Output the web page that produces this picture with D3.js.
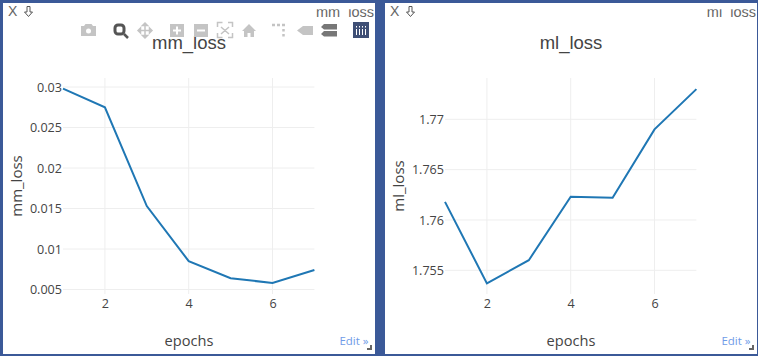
<!DOCTYPE html>
<html>
<head>
<meta charset="utf-8">
<script src="https://cdn.jsdelivr.net/npm/d3@7"></script>
<style>
  html, body { margin: 0; padding: 0; background: #fff; overflow: hidden; }
  text { font-family: "Open Sans", verdana, arial, sans-serif; fill: #444; }
  .gtitle, .cap { font-family: "Liberation Sans", arial, sans-serif; }
  .axis .domain, .axis .tick line { display: none; }
  .grid line { stroke: #eee; stroke-width: 1; }
</style>
</head>
<body>
<div id="chart"></div>
<script>
// Data
const epochs = [1, 2, 3, 4, 5, 6, 7];
const mmLoss = [0.0298, 0.0275, 0.0153, 0.0085, 0.0064, 0.0058, 0.0074];
const mlLoss = [1.7618, 1.7537, 1.756, 1.7623, 1.7622, 1.769, 1.773];
const mmTicks = [0.005, 0.01, 0.015, 0.02, 0.025, 0.03];
const mlTicks = [1.755, 1.76, 1.765, 1.77];
const xTicks = [2, 4, 6];

const frame = '#3b5998';

const svg = d3
  .select('#chart')
  .append('svg')
  .attr('width', 758)
  .attr('height', 356)
  .style('display', 'block');

svg.append('rect').attr('width', 758).attr('height', 356).attr('fill', frame);

// one card per metric
function drawPanel(p) {
  const g = svg.append('g').attr('transform', `translate(${p.left}, 3)`);

  g.append('rect').attr('width', p.w).attr('height', 351).attr('fill', '#fff');

  const x = d3.scaleLinear([1, 7], [p.x0, p.x0 + 251.4]);
  const y = d3.scaleLinear(p.yDomain, p.yRange);
  const top = 75;
  const bottom = 291;

  // grid
  const grid = g.append('g').attr('class', 'grid');
  grid
    .selectAll('.gx')
    .data(xTicks)
    .join('line')
    .attr('x1', (d) => x(d))
    .attr('x2', (d) => x(d))
    .attr('y1', top)
    .attr('y2', bottom);
  grid
    .selectAll('.gy')
    .data(p.ticks)
    .join('line')
    .attr('x1', x(1))
    .attr('x2', x(7))
    .attr('y1', (d) => y(d))
    .attr('y2', (d) => y(d));

  // axes
  g.append('g')
    .attr('class', 'axis')
    .attr('transform', `translate(0, ${bottom - 1})`)
    .call(d3.axisBottom(x).tickValues(xTicks).tickFormat(d3.format('d')).tickSize(0).tickPadding(6))
    .selectAll('text')
    .attr('font-size', 12.6)
    .style('font-family', '"Open Sans", verdana, arial, sans-serif');
  g.append('g')
    .attr('class', 'axis')
    .attr('transform', `translate(${x(1)}, 0)`)
    .call(d3.axisLeft(y).tickValues(p.ticks).tickFormat(d3.format('~g')).tickSize(0).tickPadding(1))
    .selectAll('text')
    .attr('font-size', 12.6)
    .style('font-family', '"Open Sans", verdana, arial, sans-serif');

  // loss line
  const line = d3
    .line()
    .x((d, i) => x(epochs[i]))
    .y((d) => y(d));
  g.append('path')
    .datum(p.values)
    .attr('d', line)
    .attr('fill', 'none')
    .attr('stroke', '#1f77b4')
    .attr('stroke-width', 2);

  // titles
  g.append('text')
    .attr('class', 'gtitle')
    .attr('x', 186)
    .attr('y', 45.5)
    .attr('text-anchor', 'middle')
    .attr('font-size', 18.5)
    .text(p.name);
  g.append('text')
    .attr('x', 186)
    .attr('y', 343)
    .attr('text-anchor', 'middle')
    .attr('font-size', 14.6)
    .text('epochs');
  g.append('text')
    .attr('transform', 'translate(19, 183) rotate(-90)')
    .attr('text-anchor', 'middle')
    .attr('font-size', 15)
    .text(p.name);

  // card chrome
  g.append('text').attr('class', 'cap').attr('x', 5).attr('y', 13).attr('font-size', 14).style('fill', '#666').text('X');
  g.append('path')
    .attr('d', 'M24 3.500h3v5.500h2.500l-4 4.500-4-4.500h2.500z')
    .attr('fill', 'none')
    .attr('stroke', '#555');

  // the corner label is cut off by its box, so its underscore doesn't show
  g.append('clipPath')
    .attr('id', `cap-${p.name}`)
    .append('rect')
    .attr('x', p.w - 90)
    .attr('y', 6.3)
    .attr('width', 90)
    .attr('height', 8.2);
  g.append('text')
    .attr('class', 'cap')
    .attr('x', p.w - 1)
    .attr('y', 14.3)
    .attr('text-anchor', 'end')
    .attr('font-size', 14.5)
    .attr('clip-path', `url(#cap-${p.name})`)
    .style('fill', '#666')
    .text(p.name);

  g.append('text')
    .attr('x', 365.5)
    .attr('y', 342)
    .attr('text-anchor', 'end')
    .attr('font-size', 11.5)
    .style('fill', '#6f9be8')
    .text('Edit »');
  g.append('path')
    .attr('d', `M${p.cornerX} 347v-5h-2v3h-3v2z`)
    .attr('fill', '#666');
}

drawPanel({
  name: 'mm_loss',
  left: 3,
  w: 372,
  x0: 60,
  values: mmLoss,
  ticks: mmTicks,
  yDomain: [0.005, 0.03],
  yRange: [286.5, 84],
  cornerX: 369
});
drawPanel({
  name: 'ml_loss',
  left: 385,
  w: 372,
  x0: 60,
  values: mlLoss,
  ticks: mlTicks,
  yDomain: [1.755, 1.77],
  yRange: [267.3, 116.3],
  cornerX: 369
});

// modebar on the first card
const bar = svg.append('g');
const grey = '#c4c4c4';
// camera
bar.append('path').attr('d', 'M81 26h3l1.500-2h6l1.500 2h3v10h-15z').attr('fill', grey);
bar.append('circle').attr('cx', 88.500).attr('cy', 31).attr('r', 2.500).attr('fill', '#fff');
// zoom, active
bar.append('rect').attr('x', 115).attr('y', 25).attr('width', 9).attr('height', 9).attr('rx', 3).attr('fill', 'none').attr('stroke', '#555').attr('stroke-width', 3);
bar.append('line').attr('x1', 124).attr('y1', 34).attr('x2', 128).attr('y2', 38).attr('stroke', '#555').attr('stroke-width', 2.500);
// pan
bar.append('path').attr('d', 'M145 24v13M138.500 30.500h13M145 23l-2.500 2.500h5zM145 38l-2.500-2.500h5zM138 30.500l2.500-2.500v5zM152 30.500l-2.500-2.500v5z').attr('stroke', grey).attr('fill', 'none').attr('stroke-width', 1.500);
// zoom in / out
bar.append('rect').attr('x', 170).attr('y', 24).attr('width', 14).attr('height', 13).attr('fill', grey);
bar.append('path').attr('d', 'M177 26.500v8M173 30.500h8').attr('stroke', '#fff').attr('stroke-width', 2);
bar.append('rect').attr('x', 194).attr('y', 24).attr('width', 14).attr('height', 13).attr('fill', grey);
bar.append('path').attr('d', 'M197 30.500h8').attr('stroke', '#fff').attr('stroke-width', 2);
// autoscale
bar.append('path').attr('d', 'M217.500 27v-4.500h5M228 22.500h4.500v4.500M232.500 33v4.500h-4.500M222.500 37.500h-5v-4.500M221 27l8 7M229 27l-8 7').attr('stroke', grey).attr('fill', 'none').attr('stroke-width', 1.500);
// home
bar.append('path').attr('d', 'M242 31l7-7 7 7h-2v6h-3.500v-4h-3v4h-3.500v-6z').attr('fill', grey);
// spikelines
bar.append('path').attr('d', 'M272 25h3M277 25h3M282 25h3M283.500 29v2.500M283.500 34v2.500').attr('stroke', grey).attr('fill', 'none').attr('stroke-width', 2.500);
// hover closest
bar.append('path').attr('d', 'M297 30.500l6-4.500h10v9h-10z').attr('fill', grey);
// hover compare
bar.append('path').attr('d', 'M321 27l3-3h13v5.500h-13zM321 34l3-3h13v5.500h-13z').attr('fill', '#777');
// plotly logo square
bar.append('rect').attr('x', 353).attr('y', 22).attr('width', 16).attr('height', 16).attr('fill', '#3f4f75');
bar.append('path').attr('d', 'M356.500 29v6M359.500 29v6M362.500 29v6M365.500 29v6M356.500 26v1.500M359.500 26v1.500M362.500 26v1.500M365.500 26v1.500').attr('stroke', '#fff');
</script>
</body>
</html>
